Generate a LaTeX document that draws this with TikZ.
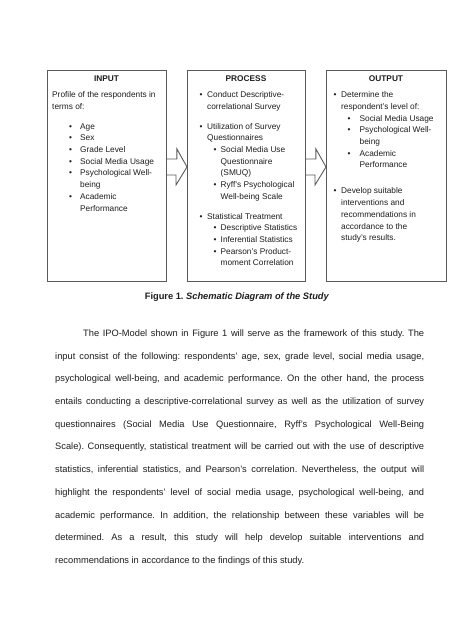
\documentclass[tikz,border=0pt]{standalone}
\usepackage{fontspec}
\setmainfont{Liberation Sans}
\usetikzlibrary{calc}
\frenchspacing
\definecolor{ink}{HTML}{1E1E1E}
\definecolor{frame}{HTML}{5A5A5A}
\newcommand{\bxfont}{\fontsize{8.3}{11.7}\selectfont}
\newcommand{\bodyfnt}{\fontsize{9.3}{22.7}\selectfont}
\newcommand{\bul}[1]{\makebox[#1][l]{•}}
\begin{document}
\begin{tikzpicture}[x=1pt,y=-1pt,
  box/.style={draw=frame, line width=0.9pt, anchor=north west, inner sep=0pt, minimum height=211pt},
  head/.style={font=\bxfont\bfseries, text=ink, anchor=base, inner sep=0pt},
  txt/.style={font=\bxfont\frenchspacing, text=ink, anchor=north west, inner sep=0pt, align=left},
  blockarrow/.style={draw=frame, line width=0.9pt, fill=white, line join=miter},
]
\fill[white] (0,0) rectangle (474,632);
\useasboundingbox (0,0) rectangle (474,632);

% box positions (invisible helpers first for arrows)
\path (47,70) node[box, draw=none, minimum width=119pt] (inbox) {}
      (187,70) node[box, draw=none, minimum width=118pt] (procbox) {}
      (326,70) node[box, draw=none, minimum width=120pt] (outbox) {};

% block arrows
\coordinate (a1from) at ($(inbox.east)+(0,-9)$);
\coordinate (a1to) at ($(procbox.west)+(0,-9)$);
\coordinate (a2from) at ($(procbox.east)+(0,-9)$);
\coordinate (a2to) at ($(outbox.west)+(0,-9)$);
\draw[blockarrow] (a1from) ++(0,-8) -- ++(10,0) -- ++(0,-10) -- (a1to) -- ++(-11,18) -- ++(0,-10) -- ++(-10,0);
\draw[blockarrow] (a2from) ++(0,-8) -- ++(10,0) -- ++(0,-10) -- (a2to) -- ++(-11,18) -- ++(0,-10) -- ++(-10,0);

% frames
\draw[draw=frame, line width=0.9pt] (inbox.north west) rectangle (inbox.south east);
\draw[draw=frame, line width=0.9pt] (procbox.north west) rectangle (procbox.south east);
\draw[draw=frame, line width=0.9pt] (outbox.north west) rectangle (outbox.south east);

% headers
\node[head] (inhead) at (106.5,81.5) {INPUT};
\node[head] (prochead) at (246,81.5) {PROCESS};
\node[head] (outhead) at (386,81.5) {OUTPUT};

% input text
\node[txt] (intext) at (52,91.5) {Profile of the respondents in\\
terms of:\\[8pt]
\hspace*{17pt}\bul{11pt}Age\\
\hspace*{17pt}\bul{11pt}Sex\\
\hspace*{17pt}\bul{11pt}Grade Level\\
\hspace*{17pt}\bul{11pt}Social Media Usage\\
\hspace*{17pt}\bul{11pt}Psychological Well-\\
\hspace*{28pt}being\\
\hspace*{17pt}\bul{11pt}Academic\\
\hspace*{28pt}Performance};

% process text
\node[txt] (proctext) at (199.5,91.5) {\bul{7.5pt}Conduct Descriptive-\\
\hspace*{7.5pt}correlational Survey\\[8pt]
\bul{7.5pt}Utilization of Survey\\
\hspace*{7.5pt}Questionnaires\\
\hspace*{14pt}\bul{7pt}Social Media Use\\
\hspace*{21pt}Questionnaire\\
\hspace*{21pt}(SMUQ)\\
\hspace*{14pt}\bul{7pt}Ryff’s Psychological\\
\hspace*{21pt}Well-being Scale\\[8pt]
\bul{7.5pt}Statistical Treatment\\
\hspace*{14pt}\bul{7pt}Descriptive Statistics\\
\hspace*{14pt}\bul{7pt}Inferential Statistics\\
\hspace*{14pt}\bul{7pt}Pearson’s Product-\\
\hspace*{21pt}moment Correlation};

% output text
\node[txt] (outtext) at (333.5,91.5) {\bul{7.5pt}Determine the\\
\hspace*{7.5pt}respondent’s level of:\\
\hspace*{14pt}\bul{12pt}Social Media Usage\\
\hspace*{14pt}\bul{12pt}Psychological Well-\\
\hspace*{26pt}being\\
\hspace*{14pt}\bul{12pt}Academic\\
\hspace*{26pt}Performance\\[14.3pt]
\bul{7.5pt}Develop suitable\\
\hspace*{7.5pt}interventions and\\
\hspace*{7.5pt}recommendations in\\
\hspace*{7.5pt}accordance to the\\
\hspace*{7.5pt}study’s results.};

% caption
\node[font=\bodyfnt, text=ink, anchor=base, inner sep=0pt] (caption) at (237,299.5)
  {\textbf{Figure 1.} \textbf{\textit{Schematic Diagram of the Study}}};

% body paragraph
\node[font=\bodyfnt\frenchspacing, text=ink, anchor=north west, inner sep=0pt, align=left] (body) at (55,329.5) {%
\hspace*{28pt}\makebox[341pt][s]{The IPO-Model shown in Figure 1 will serve as the framework of this study. The}\\
\makebox[369pt][s]{input consist of the following: respondents’ age, sex, grade level, social media usage,}\\
\makebox[369pt][s]{psychological well-being, and academic performance. On the other hand, the process}\\
\makebox[369pt][s]{entails conducting a descriptive-correlational survey as well as the utilization of survey}\\
\makebox[369pt][s]{questionnaires (Social Media Use Questionnaire, Ryff’s Psychological Well-Being}\\
\makebox[369pt][s]{Scale). Consequently, statistical treatment will be carried out with the use of descriptive}\\
\makebox[369pt][s]{statistics, inferential statistics, and Pearson’s correlation. Nevertheless, the output will}\\
\makebox[369pt][s]{highlight the respondents’ level of social media usage, psychological well-being, and}\\
\makebox[369pt][s]{academic performance. In addition, the relationship between these variables will be}\\
\makebox[369pt][s]{determined. As a result, this study will help develop suitable interventions and}\\
recommendations in accordance to the findings of this study.};
\end{tikzpicture}
\end{document}
